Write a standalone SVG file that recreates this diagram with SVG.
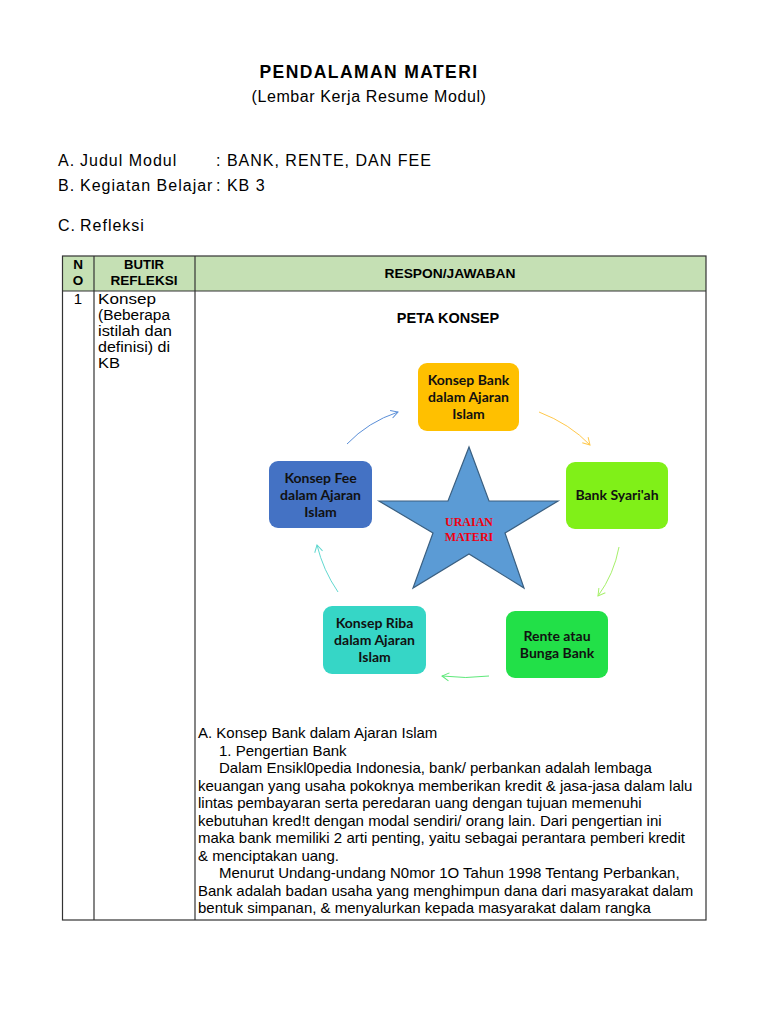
<svg xmlns="http://www.w3.org/2000/svg" width="768" height="1024" viewBox="0 0 768 1024">
<style>
.t{font-family:"Liberation Sans",Arial,sans-serif;fill:#000}
.n{font-family:"Liberation Sans",Arial,sans-serif;fill:#000}
.b{font-family:Lato,"Open Sans",sans-serif;font-weight:bold;font-size:14px;fill:#111;text-anchor:middle}
.h{font-size:16px;letter-spacing:1px}
.box{stroke:none}
.grid{stroke:#333;stroke-width:1.2;fill:none}
.ar{fill:none;stroke-width:1}
</style>
<defs>
<marker id="mb" markerWidth="10" markerHeight="10" refX="8" refY="5" orient="auto" markerUnits="userSpaceOnUse"><polyline points="1,1 8,5 1,9" fill="none" stroke="#5B8FD8" stroke-width="1"/></marker>
<marker id="my" markerWidth="10" markerHeight="10" refX="8" refY="5" orient="auto" markerUnits="userSpaceOnUse"><polyline points="1,1 8,5 1,9" fill="none" stroke="#FFC84A" stroke-width="1"/></marker>
<marker id="ml" markerWidth="10" markerHeight="10" refX="8" refY="5" orient="auto" markerUnits="userSpaceOnUse"><polyline points="1,1 8,5 1,9" fill="none" stroke="#A6F06A" stroke-width="1"/></marker>
<marker id="mg" markerWidth="10" markerHeight="10" refX="8" refY="5" orient="auto" markerUnits="userSpaceOnUse"><polyline points="1,1 8,5 1,9" fill="none" stroke="#5EE87A" stroke-width="1"/></marker>
<marker id="mc" markerWidth="10" markerHeight="10" refX="8" refY="5" orient="auto" markerUnits="userSpaceOnUse"><polyline points="1,1 8,5 1,9" fill="none" stroke="#62D8D0" stroke-width="1"/></marker>
</defs>
<rect width="768" height="1024" fill="#fff"/>
<g id="header">
<text class="t" x="369" y="78" font-size="17.5" font-weight="bold" letter-spacing="1.4" text-anchor="middle">PENDALAMAN MATERI</text>
<text class="t" x="369" y="102" font-size="16" letter-spacing="0.6" text-anchor="middle">(Lembar Kerja Resume Modul)</text>
<text class="t h" x="58" y="166">A.</text>
<text class="t h" x="80" y="166">Judul Modul</text>
<text class="t h" x="216" y="166">: BANK, RENTE, DAN FEE</text>
<text class="t h" x="58" y="191">B.</text>
<text class="t h" x="80" y="191">Kegiatan Belajar</text>
<text class="t h" x="216" y="191">: KB 3</text>
<text class="t h" x="58" y="231">C.</text>
<text class="t h" x="80" y="231">Refleksi</text>
</g>
<g id="table">
<rect x="62.5" y="256" width="643.5" height="35" fill="#C5E0B4"/>
<rect class="grid" x="62.5" y="256" width="643.5" height="664"/>
<line class="grid" x1="62.5" y1="291" x2="706" y2="291"/>
<line class="grid" x1="94" y1="256" x2="94" y2="920"/>
<line class="grid" x1="195" y1="256" x2="195" y2="920"/>
<text class="n" x="78" y="269" font-size="13.5" font-weight="bold" text-anchor="middle">N</text>
<text class="n" x="78" y="285" font-size="13.5" font-weight="bold" text-anchor="middle">O</text>
<text class="n" x="144" y="269" font-size="13.5" font-weight="bold" text-anchor="middle" textLength="40" lengthAdjust="spacingAndGlyphs">BUTIR</text>
<text class="n" x="144" y="285" font-size="13.5" font-weight="bold" text-anchor="middle" textLength="67" lengthAdjust="spacingAndGlyphs">REFLEKSI</text>
<text class="n" x="450" y="278" font-size="13.5" font-weight="bold" text-anchor="middle" textLength="131" lengthAdjust="spacingAndGlyphs">RESPON/JAWABAN</text>
<text class="n" x="78" y="304" font-size="15" text-anchor="middle">1</text>
<text class="n" x="98" y="304" font-size="15.5" textLength="58" lengthAdjust="spacingAndGlyphs">Konsep</text>
<text class="n" x="98" y="320" font-size="15.5" textLength="72" lengthAdjust="spacingAndGlyphs">(Beberapa</text>
<text class="n" x="98" y="336" font-size="15.5" textLength="74" lengthAdjust="spacingAndGlyphs">istilah dan</text>
<text class="n" x="98" y="352" font-size="15.5" textLength="72" lengthAdjust="spacingAndGlyphs">definisi) di</text>
<text class="n" x="98" y="368" font-size="15.5" textLength="22" lengthAdjust="spacingAndGlyphs">KB</text>
<text class="n" x="448" y="323" font-size="14.5" font-weight="bold" text-anchor="middle">PETA KONSEP</text>
</g>
<g id="connectors">
<path class="ar" d="M347,444 Q368,422 398,412" stroke="#5B8FD8" marker-end="url(#mb)"/>
<path class="ar" d="M539,412 Q570,424 590,445" stroke="#FFC84A" marker-end="url(#my)"/>
<path class="ar" d="M619,547 Q614,574 598,596" stroke="#A6F06A" marker-end="url(#ml)"/>
<path class="ar" d="M489,676 Q466,679 442,676" stroke="#5EE87A" marker-end="url(#mg)"/>
<path class="ar" d="M338,592 Q323,570 317,545" stroke="#62D8D0" marker-end="url(#mc)"/>
</g>
<g id="star">
<polygon points="469,447 489,501 558,501 505,533 524,588 469,554 413,588 433,533 379,501 448,501" fill="#5B9BD5" stroke="#3A5F80" stroke-width="1.2"/>
<text x="469" y="526" font-family="'Liberation Serif',serif" font-weight="bold" font-size="12" fill="#F00010" text-anchor="middle">URAIAN</text>
<text x="469" y="541" font-family="'Liberation Serif',serif" font-weight="bold" font-size="12" fill="#F00010" text-anchor="middle">MATERI</text>
</g>
<g id="node-bank">
<rect class="box" x="418" y="363" width="101" height="68" rx="9" fill="#FFC000"/>
<text class="b" x="468.5" y="385">Konsep Bank</text>
<text class="b" x="468.5" y="402">dalam Ajaran</text>
<text class="b" x="468.5" y="419">Islam</text>
</g>
<g id="node-syariah">
<rect class="box" x="566" y="462" width="102" height="67" rx="9" fill="#80F018"/>
<text class="b" x="617" y="500">Bank Syari'ah</text>
</g>
<g id="node-fee">
<rect class="box" x="269" y="461" width="103" height="67" rx="9" fill="#4472C4"/>
<text class="b" x="320.5" y="483">Konsep Fee</text>
<text class="b" x="320.5" y="500">dalam Ajaran</text>
<text class="b" x="320.5" y="517">Islam</text>
</g>
<g id="node-riba">
<rect class="box" x="323" y="606" width="103" height="68" rx="9" fill="#36D6C6"/>
<text class="b" x="374.5" y="628">Konsep Riba</text>
<text class="b" x="374.5" y="645">dalam Ajaran</text>
<text class="b" x="374.5" y="662">Islam</text>
</g>
<g id="node-rente">
<rect class="box" x="506" y="611" width="102" height="67" rx="9" fill="#22E048"/>
<text class="b" x="557" y="641">Rente atau</text>
<text class="b" x="557" y="658">Bunga Bank</text>
</g>
<g id="body" class="t" font-size="15">
<text x="198" y="738">A. Konsep Bank dalam Ajaran Islam</text>
<text x="219" y="755.5">1. Pengertian Bank</text>
<text x="219" y="773">Dalam Ensikl0pedia Indonesia, bank/ perbankan adalah lembaga</text>
<text x="198" y="790.5">keuangan yang usaha pokoknya memberikan kredit &amp; jasa-jasa dalam lalu</text>
<text x="198" y="808">lintas pembayaran serta peredaran uang dengan tujuan memenuhi</text>
<text x="198" y="825.5">kebutuhan kred!t dengan modal sendiri/ orang lain. Dari pengertian ini</text>
<text x="198" y="843">maka bank memiliki 2 arti penting, yaitu sebagai perantara pemberi kredit</text>
<text x="198" y="860.5">&amp; menciptakan uang.</text>
<text x="219" y="878">Menurut Undang-undang N0mor 1O Tahun 1998 Tentang Perbankan,</text>
<text x="198" y="895.5">Bank adalah badan usaha yang menghimpun dana dari masyarakat dalam</text>
<text x="198" y="913">bentuk simpanan, &amp; menyalurkan kepada masyarakat dalam rangka</text>
</g>
</svg>
